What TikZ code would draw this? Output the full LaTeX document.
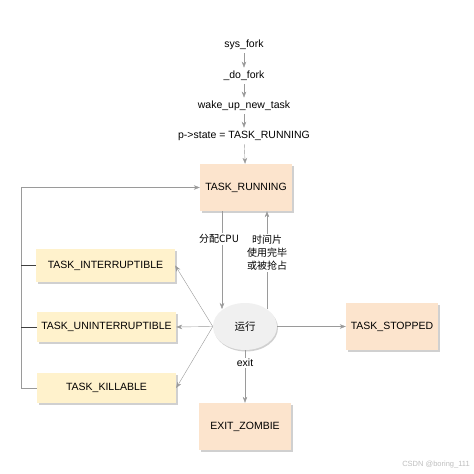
\documentclass[tikz,border=0pt]{standalone}
\usepackage{fontspec}
\setmainfont{Liberation Sans}
\newfontfamily\cjk{Noto Sans CJK SC}
\usetikzlibrary{arrows.meta,shadows,shapes.geometric}
\definecolor{peach}{HTML}{FCE4CD}
\definecolor{pale}{HTML}{FFF2CC}
\definecolor{wire}{HTML}{9A9A9A}
\tikzset{
   state/.style={fill=#1,minimum width=92,minimum height=47,inner sep=0,
      drop shadow={shadow xshift=1.5pt,shadow yshift=-1.5pt,fill=black!30,opacity=0.6}},
   side/.style={state=pale,minimum width=139,minimum height=30},
   flow/.style={draw=wire,-{Stealth[length=6pt,width=4.5pt]}},
   tag/.style={fill=white,inner sep=1pt,align=center,font=\cjk\fontsize{10}{12.5}\selectfont}
}
\begin{document}
\begin{tikzpicture}[x=1pt,y=-1pt,font=\fontsize{10.5}{12}\selectfont]
   \useasboundingbox[fill=white] (0,0) rectangle (474,474);
   % fork path
   \node (sys)   at (244,45)  {sys\_fork};
   \node (dofork) at (244,76) {\_do\_fork};
   \node (wake)  at (244,106) {wake\_up\_new\_task};
   \node (pst)   at (244,136) {p->state = TASK\_RUNNING};
   \draw[flow] (sys) -- (dofork);
   \draw[flow] (dofork) -- (wake);
   \draw[flow] (wake) -- (pst);
   % states
   \node[state=peach] (running) at (246,187.5) {TASK\_RUNNING};
   \node[side,minimum height=33] (intr) at (105.5,265.5) {TASK\_INTERRUPTIBLE};
   \node[side] (unintr) at (106.5,327) {TASK\_UNINTERRUPTIBLE};
   \node[side] (kill) at (106.5,388) {TASK\_KILLABLE};
   \node[state=peach] (stopped) at (392,326.5) {TASK\_STOPPED};
   \node[state=peach] (zombie) at (245,426.5) {EXIT\_ZOMBIE};
   \node[ellipse,fill=black!6,minimum width=64,minimum height=47,inner sep=0,
      drop shadow={shadow xshift=1pt,shadow yshift=-1.5pt,fill=black!30,opacity=0.6}]
      (run) at (245,326.5) {\cjk 运行};
   \draw[flow] (pst) -- (running);
   % CPU in and out
   \coordinate (cpu) at (222,309);
   \coordinate (back) at (267,309);
   \draw[flow] (running.south -| cpu) -- (cpu);
   \draw[flow] (back) -- (running.south -| back);
   \node[tag] at (219,239) {分配CPU};
   \node[tag,font=\cjk\fontsize{10}{13}\selectfont] at (267,253) {时间片\\使用完毕\\或被抢占};
   % sleep states
   \draw[flow] (run.west) -- (intr.east);
   \draw[flow] (run.west) -- (unintr.east);
   \draw[flow] (run.west) -- (kill.east);
   \coordinate (loop) at (21,388);
   \draw[flow] (kill.west) -- (loop) |- (running.west);
   \draw[black!75] (intr.west) -- (intr.west -| loop);
   \draw[black!75] (unintr.west) -- (unintr.west -| loop);
   % stop and exit
   \draw[flow] (run.east) -- (stopped.west);
   \draw[flow] (run.south) -- (zombie.north) node[pos=0.24,fill=white,inner sep=1pt] {exit};
   \node[text=black!25,font=\fontsize{7.5}{9}\selectfont] (mark) at (436,465) {CSDN @boring\_111};
\end{tikzpicture}
\end{document}
